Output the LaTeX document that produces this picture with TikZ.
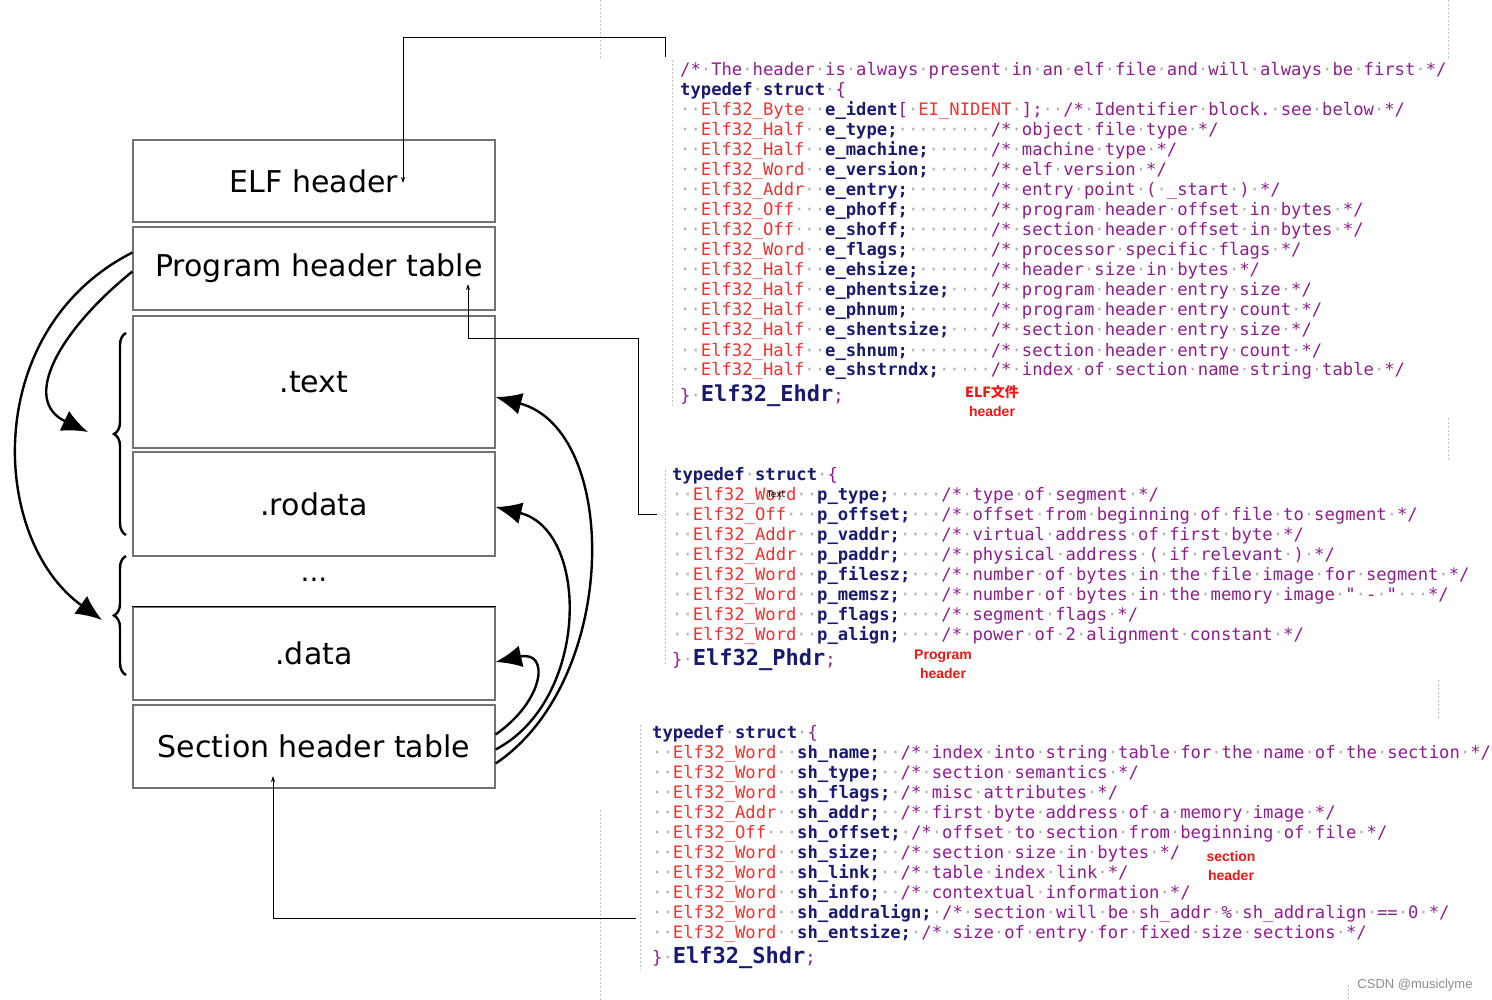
\documentclass[tikz,border=0pt]{standalone}
\usepackage{fontspec}
\usetikzlibrary{arrows.meta,decorations.pathreplacing}
\setmainfont{DejaVu Sans}
\newfontfamily\mono{DejaVu Sans Mono}
\newfontfamily\lab{Liberation Sans}
\newfontfamily\cjk{Noto Sans CJK SC}
\definecolor{cpur}{RGB}{140,30,140}
\definecolor{cred}{RGB}{240,50,50}
\definecolor{cnav}{RGB}{25,25,110}
\definecolor{cdot}{RGB}{175,175,175}
\definecolor{labred}{RGB}{240,20,20}
\newcommand\T[1]{{\color{cred}#1}}
\newcommand\F[1]{{\bfseries\color{cnav}#1}}
\newcommand\C[1]{{\color{cpur}#1}}
\catcode`·=13
\def·{{\color{cdot}\char"00B7}}
\tikzset{
 code/.style={anchor=base west,inner sep=0pt,font=\mono\fontsize{17.2}{20}\selectfont},
 box/.style={draw=black!55,line width=1.2pt,minimum width=362pt,inner sep=0pt,font=\fontsize{30}{32}\selectfont},
 thin/.style={draw=black,line width=0.9pt,-{Stealth[length=6pt,width=4pt]}},
 big/.style={draw=black,line width=2.4pt,-{Latex[length=26pt,width=22pt]}},
 lbl/.style={font=\lab\bfseries\fontsize{14}{19}\selectfont,text=labred,align=center,inner sep=0pt},
 sep/.style={draw=black!25,dash pattern=on 2pt off 2pt,line width=0.6pt}
}
\newcommand\codeline[3]{\node[code] at (#1,#2) {#3};}
\begin{document}
\begin{tikzpicture}[x=1pt,y=-1pt]
\useasboundingbox (0,0) rectangle (1492,1000);
% page separators
\draw[sep] (600,0) -- (600,60);
\draw[sep] (1448,0) -- (1448,60);
\draw[sep] (1448,418) -- (1448,460);
\draw[sep] (1438,680) -- (1438,720);
\draw[sep] (600,810) -- (600,1000);
\draw[sep] (1348,985) -- (1348,1000);
\draw[sep] (672,60) -- (672,405);
\draw[sep] (665,470) -- (665,665);
\draw[sep] (640,725) -- (640,970);
% boxes
\node[box,minimum height=82pt] (elf) at (314,181) {ELF header};
\node[box,minimum height=83pt] (pht) at (314,268.5) {\hspace*{10pt}Program header table};
\node[box,minimum height=132pt] (txt) at (314,382) {.text};
\node[box,minimum height=104pt] (rod) at (314,504) {.rodata};
\node[inner sep=0pt,font=\fontsize{28}{30}\selectfont] (dots) at (314,580) {...};
\node[box,minimum height=93pt] (dat) at (314,653.5) {.data};
\draw[black,line width=1pt] (dat.north west) -- (dat.north east);
\node[box,minimum height=83pt] (sht) at (314,746.5) {Section header table};
% braces
\draw[line width=2.4pt,decorate,decoration={brace,amplitude=12pt}] (126,535) -- (126,333);
\draw[line width=2.4pt,decorate,decoration={brace,amplitude=12pt}] (126,675) -- (126,556);
% curved arrows left
\coordinate (l1) at (88,432);
\coordinate (l2) at (102,620);
\draw[big] (pht.west) ++(0,3) .. controls (60,330) and (20,400) .. (l1);
\draw[big] (pht.west) ++(0,-16) .. controls (-20,330) and (-10,540) .. (l2);
% curved arrows right
\draw[big] (sht.east) ++(0,17) .. controls (620,680) and (620,430) .. (txt.east |- 0,397);
\draw[big] (sht.east) ++(0,3) .. controls (590,700) and (590,530) .. (rod.east |- 0,507);
\draw[big] (sht.east) ++(0,-12) .. controls (545,700) and (550,650) .. (dat.east |- 0,662);
% thin connectors
\coordinate (e0) at (665,57);
\coordinate (p0) at (657,514);
\coordinate (s0) at (636,918);
\draw[thin] (e0) -- (665,37) -- (403,37) -- (403,183);
\draw[thin] (p0) -- (638,514) -- (638,338) -- (468,338) -- (468,284);
\draw[thin] (s0) -- (273,918) -- (273,776);
% Elf32_Ehdr
\codeline{680}{76}{\C{/*·The·header·is·always·present·in·an·elf·file·and·will·always·be·first·*/}}
\codeline{680}{96}{\F{typedef}·\F{struct}·\C{\{}}
\codeline{680}{116}{··\T{Elf32\_Byte}··\F{e\_ident}\C{[}·\T{EI\_NIDENT}·\C{];}··\C{/*·Identifier·block.·see·below·*/}}
\codeline{680}{136}{··\T{Elf32\_Half}··\F{e\_type;}·········\C{/*·object·file·type·*/}}
\codeline{680}{156}{··\T{Elf32\_Half}··\F{e\_machine;}······\C{/*·machine·type·*/}}
\codeline{680}{176}{··\T{Elf32\_Word}··\F{e\_version;}······\C{/*·elf·version·*/}}
\codeline{680}{196}{··\T{Elf32\_Addr}··\F{e\_entry;}········\C{/*·entry·point·(·\_start·)·*/}}
\codeline{680}{216}{··\T{Elf32\_Off}···\F{e\_phoff;}········\C{/*·program·header·offset·in·bytes·*/}}
\codeline{680}{236}{··\T{Elf32\_Off}···\F{e\_shoff;}········\C{/*·section·header·offset·in·bytes·*/}}
\codeline{680}{256}{··\T{Elf32\_Word}··\F{e\_flags;}········\C{/*·processor·specific·flags·*/}}
\codeline{680}{276}{··\T{Elf32\_Half}··\F{e\_ehsize;}·······\C{/*·header·size·in·bytes·*/}}
\codeline{680}{296}{··\T{Elf32\_Half}··\F{e\_phentsize;}····\C{/*·program·header·entry·size·*/}}
\codeline{680}{316}{··\T{Elf32\_Half}··\F{e\_phnum;}········\C{/*·program·header·entry·count·*/}}
\codeline{680}{336}{··\T{Elf32\_Half}··\F{e\_shentsize;}····\C{/*·section·header·entry·size·*/}}
\codeline{680}{356}{··\T{Elf32\_Half}··\F{e\_shnum;}········\C{/*·section·header·entry·count·*/}}
\codeline{680}{376}{··\T{Elf32\_Half}··\F{e\_shstrndx;}·····\C{/*·index·of·section·name·string·table·*/}}
\codeline{680}{402}{\C{\}}·{\fontsize{22}{22}\selectfont\F{Elf32\_Ehdr}}\C{;}}
\node[lbl] (l1t) at (992,401) {{\cjk ELF文件}\\header};
% Elf32_Phdr
\codeline{672}{480}{\F{typedef}·\F{struct}·\C{\{}}
\codeline{672}{500}{··\T{Elf32\_Word}··\F{p\_type;}·····\C{/*·type·of·segment·*/}}
\codeline{672}{520}{··\T{Elf32\_Off}···\F{p\_offset;}···\C{/*·offset·from·beginning·of·file·to·segment·*/}}
\codeline{672}{540}{··\T{Elf32\_Addr}··\F{p\_vaddr;}····\C{/*·virtual·address·of·first·byte·*/}}
\codeline{672}{560}{··\T{Elf32\_Addr}··\F{p\_paddr;}····\C{/*·physical·address·(·if·relevant·)·*/}}
\codeline{672}{580}{··\T{Elf32\_Word}··\F{p\_filesz;}···\C{/*·number·of·bytes·in·the·file·image·for·segment·*/}}
\codeline{672}{600}{··\T{Elf32\_Word}··\F{p\_memsz;}····\C{/*·number·of·bytes·in·the·memory·image·"·-·"···*/}}
\codeline{672}{620}{··\T{Elf32\_Word}··\F{p\_flags;}····\C{/*·segment·flags·*/}}
\codeline{672}{640}{··\T{Elf32\_Word}··\F{p\_align;}····\C{/*·power·of·2·alignment·constant·*/}}
\codeline{672}{665}{\C{\}}·{\fontsize{22}{22}\selectfont\F{Elf32\_Phdr}}\C{;}}
\node[inner sep=0pt,font=\fontsize{9}{9}\selectfont] (tx) at (776,494) {Text};
\node[lbl] (l2t) at (943,664) {Program\\header};
% Elf32_Shdr
\codeline{652}{738}{\F{typedef}·\F{struct}·\C{\{}}
\codeline{652}{758}{··\T{Elf32\_Word}··\F{sh\_name;}··\C{/*·index·into·string·table·for·the·name·of·the·section·*/}}
\codeline{652}{778}{··\T{Elf32\_Word}··\F{sh\_type;}··\C{/*·section·semantics·*/}}
\codeline{652}{798}{··\T{Elf32\_Word}··\F{sh\_flags;}·\C{/*·misc·attributes·*/}}
\codeline{652}{818}{··\T{Elf32\_Addr}··\F{sh\_addr;}··\C{/*·first·byte·address·of·a·memory·image·*/}}
\codeline{652}{838}{··\T{Elf32\_Off}···\F{sh\_offset;}·\C{/*·offset·to·section·from·beginning·of·file·*/}}
\codeline{652}{858}{··\T{Elf32\_Word}··\F{sh\_size;}··\C{/*·section·size·in·bytes·*/}}
\codeline{652}{878}{··\T{Elf32\_Word}··\F{sh\_link;}··\C{/*·table·index·link·*/}}
\codeline{652}{898}{··\T{Elf32\_Word}··\F{sh\_info;}··\C{/*·contextual·information·*/}}
\codeline{652}{918}{··\T{Elf32\_Word}··\F{sh\_addralign;}·\C{/*·section·will·be·sh\_addr·\%·sh\_addralign·==·0·*/}}
\codeline{652}{938}{··\T{Elf32\_Word}··\F{sh\_entsize;}·\C{/*·size·of·entry·for·fixed·size·sections·*/}}
\codeline{652}{963}{\C{\}}·{\fontsize{22}{22}\selectfont\F{Elf32\_Shdr}}\C{;}}
\node[lbl] (l3t) at (1231,866) {section\\header};
\node[inner sep=0pt,font=\lab\fontsize{13}{13}\selectfont,text=black!45] (wm) at (1415,985) {CSDN @musiclyme};
\end{tikzpicture}
\end{document}
